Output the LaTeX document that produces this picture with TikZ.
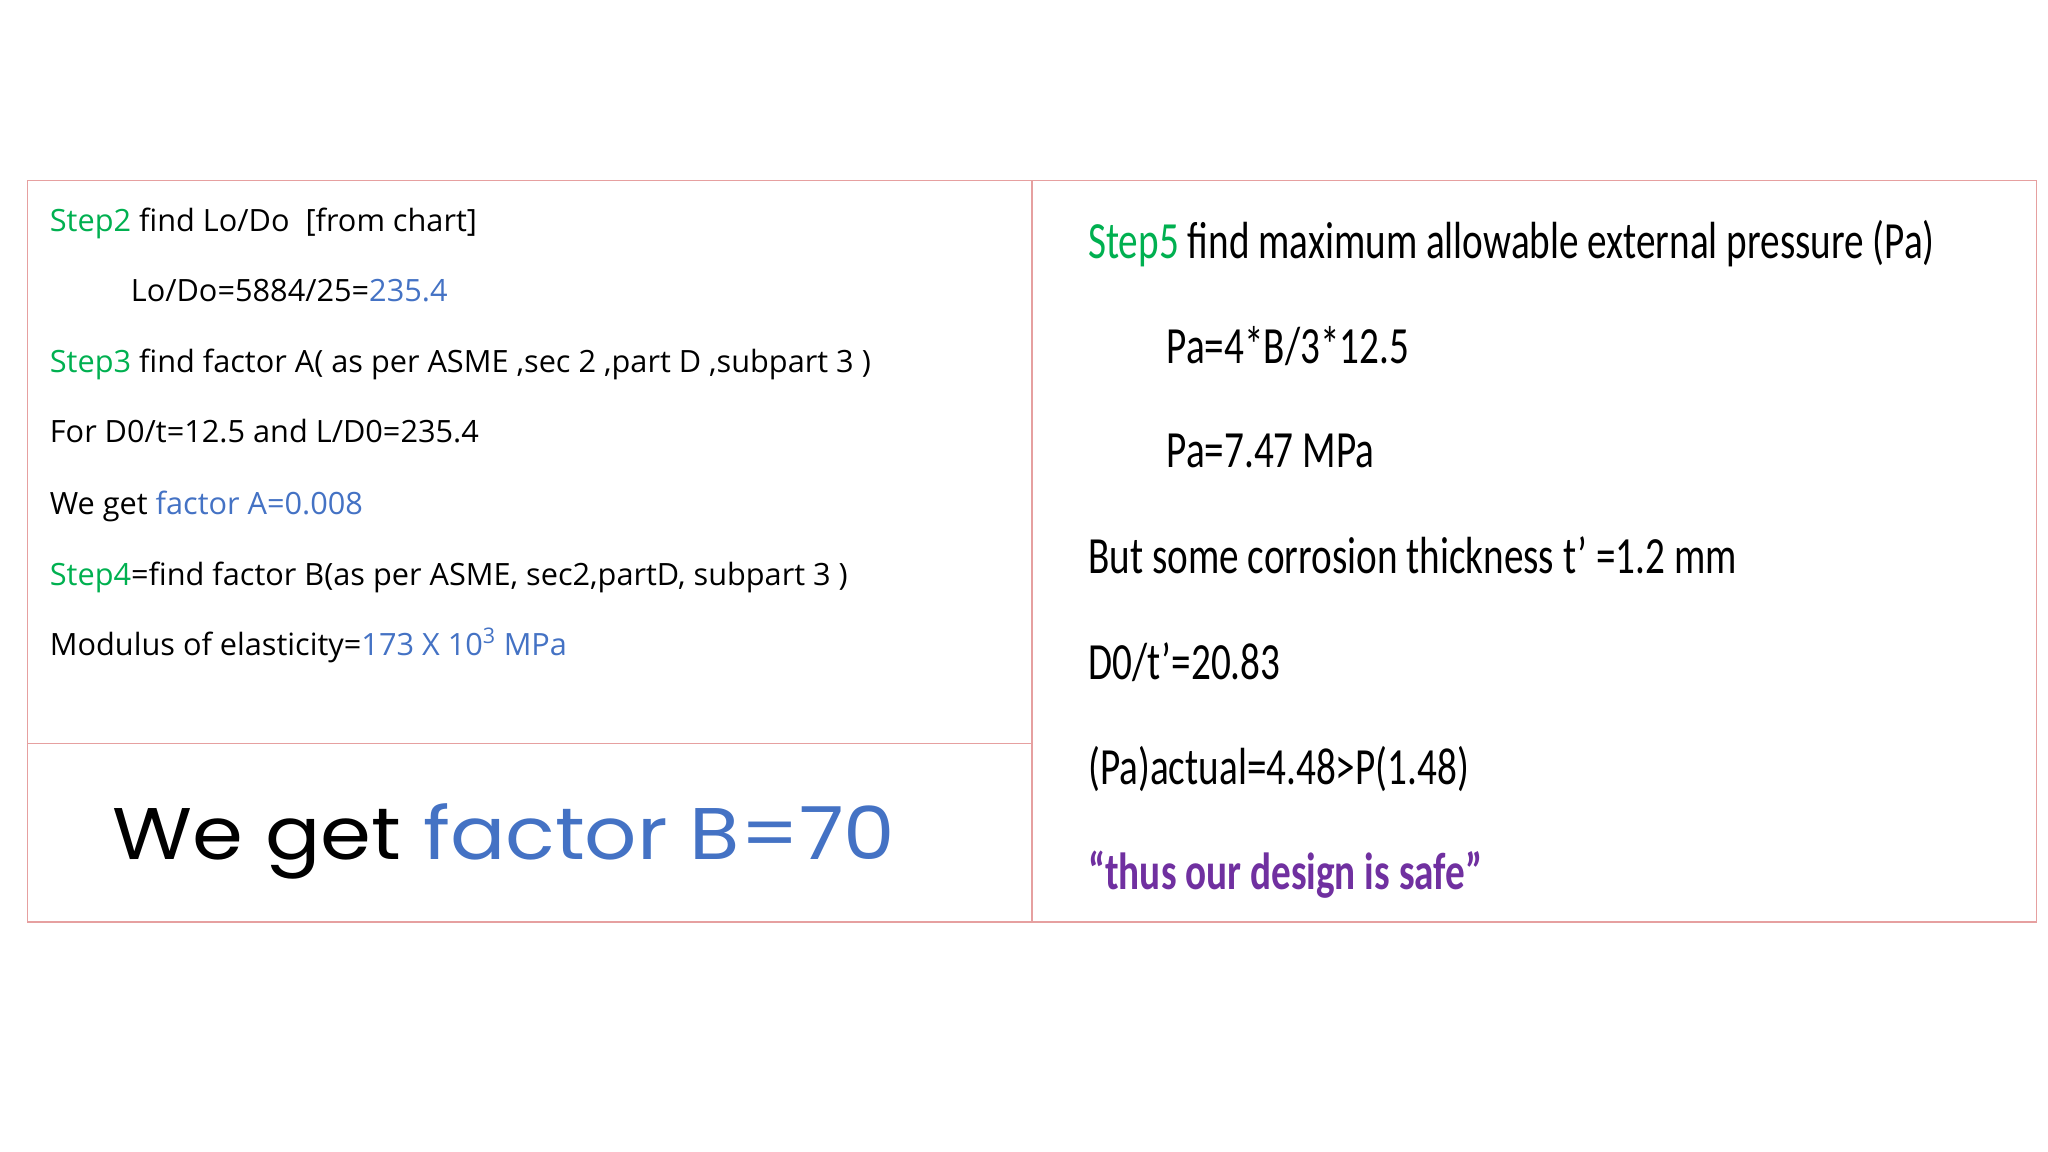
\documentclass[tikz,border=0pt]{standalone}
\usepackage{fontspec}
\setmainfont{Open Sans}
\newfontfamily\condfont[FakeStretch=0.75]{Carlito}
\newfontfamily\bigfont[FakeStretch=1.12]{Poppins}
\definecolor{stepg}{HTML}{00B050}
\definecolor{valb}{HTML}{4472C4}
\definecolor{safep}{HTML}{7030A0}
\definecolor{frame}{HTML}{E6A0A0}
\begin{document}
\begin{tikzpicture}[x=1pt,y=-1pt,
  lt/.style={anchor=base west,inner sep=0pt,font=\fontsize{23.5}{28}\selectfont},
  rt/.style={anchor=base west,inner sep=0pt,font=\condfont\fontsize{40}{46}\selectfont},
  box/.style={draw=frame,line width=1pt}]
\useasboundingbox (0,0) rectangle (1568,882);
\draw[box] (21,138) rectangle (1559,706);
\draw[box] (790,138) -- (790,706);
\draw[box] (21,569) -- (790,569);
\node[lt] (l1) at (38,177) {\textcolor{stepg}{Step2} find Lo/Do\ \ [from chart]};
\node[lt] (l2) at (100,231) {Lo/Do=5884/25=\textcolor{valb}{235.4}};
\node[lt] (l3) at (38,285) {\textcolor{stepg}{Step3} find factor A( as per ASME ,sec 2 ,part D ,subpart 3 )};
\node[lt] (l4) at (38,339) {For D0/t=12.5 and L/D0=235.4};
\node[lt] (l5) at (38,394) {We get \textcolor{valb}{factor A=0.008}};
\node[lt] (l6) at (38,448) {\textcolor{stepg}{Step4}=find factor B(as per ASME, sec2,partD, subpart 3 )};
\node[lt] (l7) at (38,502) {Modulus of elasticity=\textcolor{valb}{173 X 10\textsuperscript{3} MPa}};
\node[anchor=base west,inner sep=0pt,font=\bigfont\fontsize{56}{64}\selectfont] (bb) at (86,658) {We get \textcolor{valb}{factor B=70}};
\node[rt] (r1) at (833,198) {\textcolor{stepg}{Step5} find maximum allowable external pressure (Pa)};
\node[rt] (r2) at (893,278) {Pa=4*B/3*12.5};
\node[rt] (r3) at (893,358) {Pa=7.47 MPa};
\node[rt] (r4) at (833,439) {But some corrosion thickness t’ =1.2 mm};
\node[rt] (r5) at (833,520) {D0/t’=20.83};
\node[rt] (r6) at (833,601) {(Pa)actual=4.48>P(1.48)};
\node[rt,text=safep,font=\condfont\bfseries\fontsize{40}{46}\selectfont] (r7) at (833,681) {“thus our design is safe”};
\end{tikzpicture}
\end{document}
